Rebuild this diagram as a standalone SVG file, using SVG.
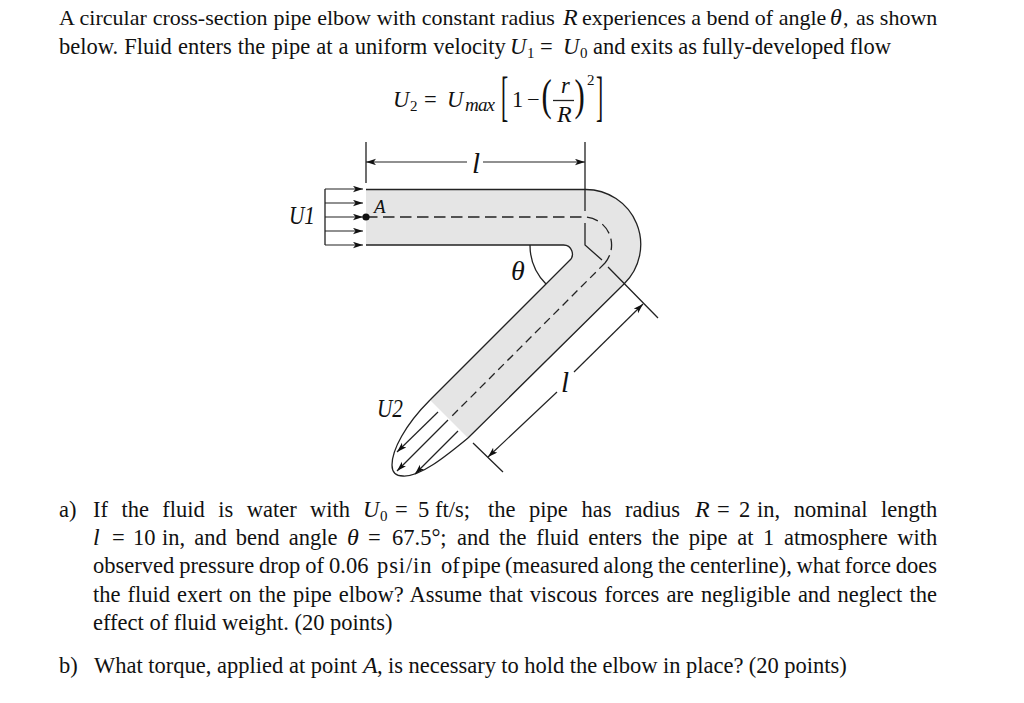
<svg xmlns="http://www.w3.org/2000/svg" width="1024" height="703" viewBox="0 0 1024 703">
<style>
text{font-family:"Liberation Serif","Times New Roman",serif;fill:#111}
.b{font-size:22.5px}
.s{font-size:15px}
.i{font-style:italic}
.m{font-style:italic;font-size:24px}
.l{fill:none;stroke:#222;stroke-width:1.3}
.d{fill:none;stroke:#222;stroke-width:1.3;stroke-dasharray:11.5 5.5}
.e{fill:none;stroke:#222;stroke-width:1.3;stroke-dasharray:8 5}
.a{fill:none;stroke:#222;stroke-width:1.2;marker-end:url(#ah)}
</style>
<defs><marker id="ah" markerUnits="userSpaceOnUse" markerWidth="11" markerHeight="8" refX="10" refY="3.2" orient="auto"><path d="M0 0L10 3.2L0 6.4L2.5 3.2Z" fill="#111"/></marker></defs>
<rect width="1024" height="703" fill="#fff"/>
<g id="pipe"><path d="M366 189.5H585A55 55 0 0 1 624 284L468 438L430 400L569 261A9 9 0 0 0 563 245H366Z" fill="#e5e5e5"/>
<path class="l" d="M366 189.5H585A55 55 0 0 1 624 284L468 438M430 400L569 261A9 9 0 0 0 563 245H366"/></g>
<g id="connectors">
<path class="d" d="M366 217H585A28 28 0 0 1 605 263"/>
<path class="e" d="M605 263L449 419"/>
<path class="l" d="M366 142V183M585 142V211M585 223V245L602 260M608 267L658 318M473 443L503 472M530 245A55 55 0 0 0 546 284M325 189V245"/>
<path class="a" d="M467 162H366"/><path class="a" d="M483 162H585"/>
<path class="a" d="M325 189H363"/><path class="a" d="M325 203H363"/><path class="a" d="M325 217H363"/><path class="a" d="M325 231H363"/><path class="a" d="M325 245H363"/>
<path class="a" d="M557 392L488 457"/><path class="a" d="M574 372L643 304"/>
<path class="l" d="M430 400C405 425 392 450 392 465C392 473 397 476 403 476C420 477 445 457 468 438"/>
<path class="a" d="M438 412L397 452"/><path class="a" d="M448 420L397 471"/><path class="a" d="M458 431L415 474"/>
<circle cx="366" cy="217" r="3.6" fill="#111"/></g>
<g id="labels">
<text x="472" y="173" class="i" font-size="29">l</text>
<text x="374" y="213" class="i" font-size="19">A</text>
<text x="289" y="224" class="i" font-size="26" textLength="26" lengthAdjust="spacingAndGlyphs">U1</text>
<text x="511" y="280" class="i" font-size="28">θ</text>
<text x="377" y="417" class="i" font-size="26" textLength="26" lengthAdjust="spacingAndGlyphs">U2</text>
<text x="561" y="392" class="i" font-size="29">l</text>
</g>
<g id="equation" class="b">
<text x="393" y="107"><tspan class="i">U</tspan><tspan class="s" x="410" dy="4">2</tspan></text>
<text x="424" y="107">=</text>
<text x="447" y="107" class="i">U</text>
<text x="465" y="111" class="i" font-size="19" textLength="30">max</text>
<text transform="translate(501 114.6) scale(.4 1)" font-size="54">[</text>
<text x="512" y="107">1</text>
<text x="527" y="107">−</text>
<text transform="translate(541.6 110) scale(.7 1)" font-size="44">(</text>
<text x="561" y="93" class="i">r</text>
<path class="l" d="M553 100.5H574"/>
<text x="557" y="122" class="m">R</text>
<text transform="translate(574.4 110) scale(.7 1)" font-size="44">)</text>
<text x="587" y="85" class="s">2</text>
<text transform="translate(596 114.6) scale(.4 1)" font-size="54">]</text>
</g>
<g id="text" class="b">
<text x="59" y="25" font-size="22" style="font-size:22px" word-spacing=".4">A circular cross-section pipe elbow with constant radius <tspan class="m" x="563">R</tspan> <tspan x="582" word-spacing="0">experiences a bend of angle</tspan> <tspan class="m" x="830">θ</tspan><tspan x="843">,</tspan> <tspan x="856" word-spacing="0">as shown</tspan></text>
<text x="59" y="54" word-spacing=".5">below. Fluid enters the pipe at a uniform velocity <tspan class="i" x="510">U</tspan><tspan class="s" x="527" dy="4">1</tspan> <tspan x="540" dy="-4">=</tspan> <tspan class="i" x="563">U</tspan><tspan class="s" x="580" dy="4">0</tspan> <tspan x="593" dy="-4" word-spacing="-.5">and exits as fully-developed flow</tspan></text>
<text x="59" y="517">a)</text>
<text x="93" y="517" word-spacing="7.8">If the fluid is water with <tspan class="i" x="363">U</tspan><tspan class="s" x="380" dy="4">0</tspan> <tspan x="395" dy="-4">=</tspan> <tspan x="418">5</tspan> <tspan x="435">ft/s;</tspan> <tspan x="488" word-spacing="8">the pipe has radius</tspan> <tspan class="m" x="695">R</tspan> <tspan x="717">=</tspan> <tspan x="739">2</tspan> <tspan x="757" word-spacing="8">in, nominal length</tspan></text>
<text x="93" y="545"><tspan class="m">l</tspan> <tspan x="112">=</tspan> <tspan x="133">10</tspan> <tspan x="162" word-spacing="3.5">in, and bend angle</tspan> <tspan class="m" x="347">θ</tspan> <tspan x="368">=</tspan> <tspan x="392">67.5°;</tspan> <tspan x="457" word-spacing="4">and the fluid enters the pipe at 1 atmosphere with</tspan></text>
<text x="93" y="573" word-spacing="-.7">observed pressure drop of <tspan x="329">0.06</tspan> <tspan x="377" letter-spacing=".9">psi/in</tspan> <tspan x="441" word-spacing="-3.4">of pipe</tspan> <tspan x="505" word-spacing="-1">(measured along the centerline), what force does</tspan></text>
<text x="93" y="601.5" word-spacing="1.4">the fluid exert on the pipe elbow? Assume that viscous forces are negligible and neglect the</text>
<text x="93" y="630">effect of fluid weight. (20 points)</text>
<text x="59" y="673">b)</text>
<text x="94" y="673">What torque, applied at point <tspan class="m" x="363">A</tspan><tspan x="377" word-spacing="-.2">, is necessary to hold the elbow in place? (20 points)</tspan></text>
</g>
</svg>
